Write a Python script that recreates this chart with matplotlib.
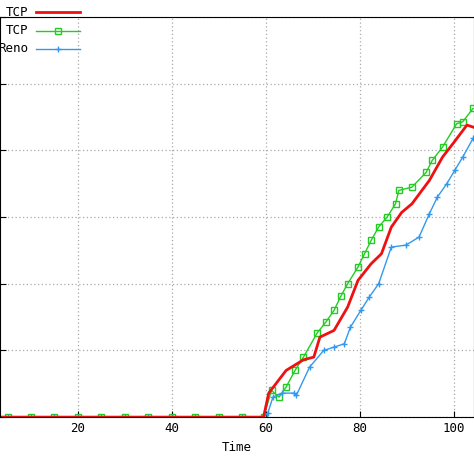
import numpy as np
import matplotlib
matplotlib.use("Agg")
import matplotlib.pyplot as plt

zero_x = [0, 5, 10, 15, 20, 25, 30, 35, 40, 45, 50, 55, 59.5]

red_x = zero_x + [60.6, 64.3, 68, 70.2, 71.5, 74.5, 77.4, 79.6, 82.4, 84.6, 86.7, 88.9,
                  91.1, 94.8, 97.6, 99.8, 102.8, 104.1]
red_y = [0] * len(zero_x) + [0.36, 0.7, 0.86, 0.9, 1.2, 1.3, 1.65, 2.05, 2.3, 2.45, 2.85,
                              3.07, 3.2, 3.55, 3.9, 4.1, 4.38, 4.35]

green_x = zero_x + [61.2, 62.8, 64.3, 66.2, 68, 70.9, 72.7, 74.5, 76, 77.4, 79.6, 81,
                    82.4, 84, 85.8, 87.6, 88.3, 91.1, 94.1, 95.4, 97.6, 100.6, 101.9, 104.1]
green_y = [0] * len(zero_x) + [0.4, 0.3, 0.45, 0.7, 0.9, 1.26, 1.42, 1.6, 1.82, 2.0, 2.25,
                                2.45, 2.65, 2.85, 3.0, 3.2, 3.4, 3.45, 3.67, 3.85, 4.05,
                                4.4, 4.43, 4.63]

blue_x = zero_x + [60.4, 61.5, 63.5, 65.9, 66.5, 69.3, 72.3, 74.5, 76.7, 78, 80.2, 82,
                   84, 86.7, 89.8, 92.6, 94.8, 96.5, 98.5, 100.2, 101.9, 104.1]
blue_y = [0] * len(zero_x) + [0.06, 0.3, 0.36, 0.36, 0.33, 0.75, 1.0, 1.05, 1.1, 1.35, 1.6,
                               1.8, 2.0, 2.55, 2.58, 2.7, 3.05, 3.3, 3.5, 3.7, 3.9, 4.18]

x_ticks = [20, 40, 60, 80, 100]
y_ticks = [0, 1, 2, 3, 4, 5, 6]
legend_labels = ["TCP", "TCP", "Reno"]

mono = "DejaVu Sans Mono"

fig = plt.figure(figsize=(4.74, 4.74), dpi=100)
ax = fig.add_axes([0, 0.12, 1, 0.844])

ax.plot(green_x, green_y, color="#22cc22", lw=1, marker="s", ms=4,
        mfc="none", mew=1)
ax.plot(blue_x, blue_y, color="#3399ee", lw=1, marker="+", ms=5)
ax.plot(red_x, red_y, color="#ee1111", lw=2)

ax.set_xticks(x_ticks)
ax.set_xticklabels([str(v) for v in x_ticks], fontfamily=mono, fontsize=9)
ax.set_yticks(y_ticks)
ax.set_yticklabels([])
ax.set_xlim(3.4, 104.3)
ax.set_ylim(0, 6)
ax.tick_params(direction="in", length=4)
ax.grid(True, color="#aaaaaa", linestyle=(0, (1, 2)), lw=0.9)
ax.set_xlabel("Time", fontfamily=mono, fontsize=9)
for s in ax.spines.values():
    s.set_linewidth(0.8)

# legend in the top-left corner, drawn by hand
styles = [dict(color="#ee1111", lw=2),
          dict(color="#22cc22", lw=1, marker="s", ms=4, mfc="none", mew=1),
          dict(color="#3399ee", lw=1, marker="+", ms=5)]
for i, (lab, st) in enumerate(zip(legend_labels, styles)):
    yp = 1 - (12 + 18.5 * i) / 474
    fig.text(28 / 474, yp, lab, ha="right", va="center", fontfamily=mono, fontsize=9)
    fig.add_artist(plt.Line2D([36 / 474, 80 / 474], [yp, yp], transform=fig.transFigure,
                              **{k: v for k, v in st.items() if k not in ("marker", "ms", "mfc", "mew")}))
    if "marker" in st:
        fig.add_artist(plt.Line2D([58 / 474], [yp], transform=fig.transFigure, **st))

fig.savefig("out.png", dpi=100)
